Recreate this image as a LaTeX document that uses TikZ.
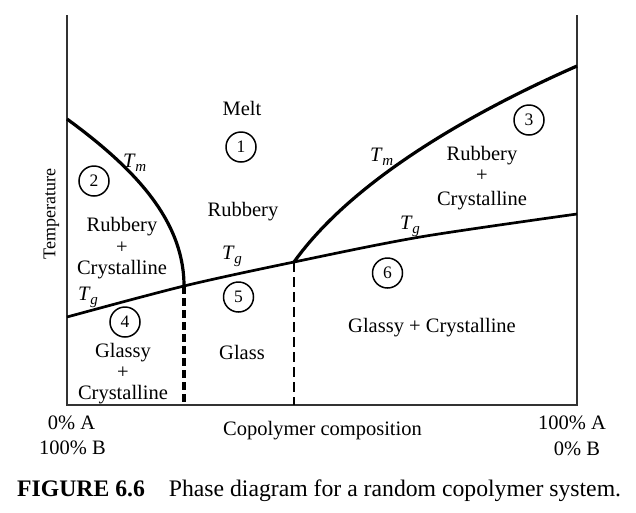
\documentclass[tikz,border=0pt]{standalone}
\usepackage{fontspec}
\setmainfont{Liberation Serif}
\newcommand{\Tlab}[1]{\textit{T}\kern-0.5pt\raisebox{-4.5pt}{\fontsize{15}{15}\selectfont\textit{#1}}}
\begin{document}
\begin{tikzpicture}[x=1pt,y=-1pt,
  lbl/.style={anchor=base, inner sep=0pt, font=\fontsize{20.5}{22}\selectfont},
  tlbl/.style={anchor=base west, inner sep=0pt, font=\fontsize{20.5}{22}\selectfont},
  num/.style={circle, draw, line width=1.5pt, minimum size=30pt, inner sep=0pt, font=\fontsize{17.5}{17.5}\selectfont},
  axisline/.style={line width=2.2pt, draw=black!80},
  tmcurve/.style={line width=3.2pt},
  tgcurve/.style={line width=2.7pt},
  dashA/.style={line width=3.2pt, dash pattern=on 8pt off 4pt},
  dashB/.style={line width=2pt, dash pattern=on 10pt off 5pt}]
\useasboundingbox (0,0) rectangle (636,512);
% frame
\coordinate (tl) at (67,15);
\coordinate (bl) at (67,405);
\coordinate (br) at (577,405);
\coordinate (tr) at (577,15);
\draw[axisline] (tl) -- (bl) -- (br) -- (tr);
% key points
\coordinate (tmL) at (67,119);
\coordinate (j1) at (184,286);
\coordinate (tgL) at (67,317);
\coordinate (j2) at (294,262);
\coordinate (tgM) at (420,237);
\coordinate (tgR) at (577,214);
\coordinate (tmR) at (577,66);
\coordinate (b1) at (184,405);
\coordinate (b2) at (294,405);
% curves
\draw[tmcurve] (tmL) .. controls (132,166.5) and (184,219) .. (j1);
\draw[tmcurve] (j2) .. controls (354,178) and (477,110) .. (tmR);
\draw[tgcurve] plot[smooth, tension=0.5] coordinates {(tgL) (j1) (j2) (tgM) (tgR)};
\draw[dashA] (j1) -- (b1);
\draw[dashB] (j2) -- (b2);
% region labels
\node[lbl] (melt) at (242,115) {Melt};
\node[num] (n1) at (241,147) {1};
\node[lbl] (rub) at (243,216) {Rubbery};
\node[num] (n2) at (94,181) {2};
\node[lbl] (rubL) at (122,231) {Rubbery};
\node[lbl] (plL) at (122,253) {+};
\node[lbl] (crL) at (122,274) {Crystalline};
\node[num] (n3) at (529,120) {3};
\node[lbl] (rubR) at (482,160) {Rubbery};
\node[lbl] (plR) at (482,181) {+};
\node[lbl] (crR) at (482,205) {Crystalline};
\node[num] (n4) at (125,322) {4};
\node[lbl] (glL) at (123,357) {Glassy};
\node[lbl] (plG) at (123,378) {+};
\node[lbl] (crG) at (123,399) {Crystalline};
\node[num] (n5) at (238.5,297) {5};
\node[lbl] (glass) at (242,359) {Glass};
\node[num] (n6) at (387.5,273) {6};
\node[lbl] (gc) at (432,332) {Glassy + Crystalline};
% T labels
\node[tlbl] (tm1) at (123,167) {\Tlab{m}};
\node[tlbl] (tm2) at (370,161) {\Tlab{m}};
\node[tlbl] (tg1) at (78,300) {\Tlab{g}};
\node[tlbl] (tg2) at (222,259) {\Tlab{g}};
\node[tlbl] (tg3) at (400,229) {\Tlab{g}};
% axes labels
\node[lbl] (a0) at (71.5,429) {0\% A};
\node[lbl] (b100) at (72.5,454) {100\% B};
\node[lbl] (a100) at (572,429) {100\% A};
\node[lbl] (b0) at (577,455) {0\% B};
\node[lbl] (xlab) at (322.5,435) {Copolymer composition};
\node[rotate=90, inner sep=0pt, font=\fontsize{18}{18}\selectfont] (temp) at (51.5,214) {Temperature};
% caption
\node[anchor=base west, inner sep=0pt, font=\fontsize{23.7}{25}\selectfont] (cap) at (17,496) {\textbf{FIGURE 6.6}\hspace{24pt}Phase diagram for a random copolymer system.};
\end{tikzpicture}
\end{document}
